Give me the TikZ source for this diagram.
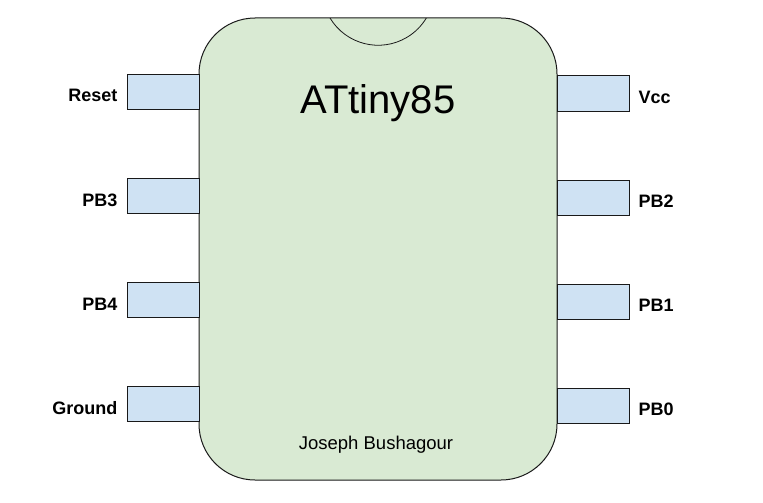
\documentclass[tikz,border=0pt]{standalone}
\usepackage{fontspec}
\setmainfont{Liberation Sans}
\usetikzlibrary{positioning}
\definecolor{chipgreen}{HTML}{D9EAD3}
\definecolor{pinblue}{HTML}{CFE2F3}
\tikzstyle{chip}=[draw=black!90, fill=chipgreen, line width=1pt, rounded corners=56pt, minimum width=358pt, minimum height=462pt]
\tikzstyle{pin}=[draw=black!90, fill=pinblue, line width=1pt, minimum width=72pt, minimum height=35pt, inner sep=0pt]
\tikzstyle{pinlabel}=[font=\fontsize{18}{20}\selectfont\bfseries, inner sep=0pt, text height=13pt, text depth=0pt, yshift=-3.5pt]

\begin{document}
\begin{tikzpicture}[x=1pt, y=-1pt]
  \useasboundingbox (0,0) rectangle (763,503);

  % body and notch
  \node[chip] (body) at (378,249) {};
  \coordinate (notchL) at (330,18);
  \draw[line width=0.8pt, black!90] (notchL) arc[start angle=211, end angle=329, radius=56.2pt];

  % texts
  \node[anchor=base, inner sep=0pt, font=\fontsize{40}{44}\selectfont] (title) at (378,113.5) {ATtiny85};
  \node[anchor=base, inner sep=0pt, font=\fontsize{18.5}{20}\selectfont] (author) at (376,449.3) {Joseph Bushagour};

  % pins
  \foreach \y/\lname/\rname [count=\i] in {92/Reset/Vcc, 196/PB3/PB2, 300/PB4/PB1, 404/Ground/PB0}
  {
    \node[pin] (lpin\i) at (163,\y) {};
    \node[pin] (rpin\i) at (593,\y+1.5) {};
    \node[pinlabel, left=9pt of lpin\i] (lname\i) {\lname};
    \node[pinlabel, right=9pt of rpin\i] (rname\i) {\rname};
  }
\end{tikzpicture}
\end{document}
